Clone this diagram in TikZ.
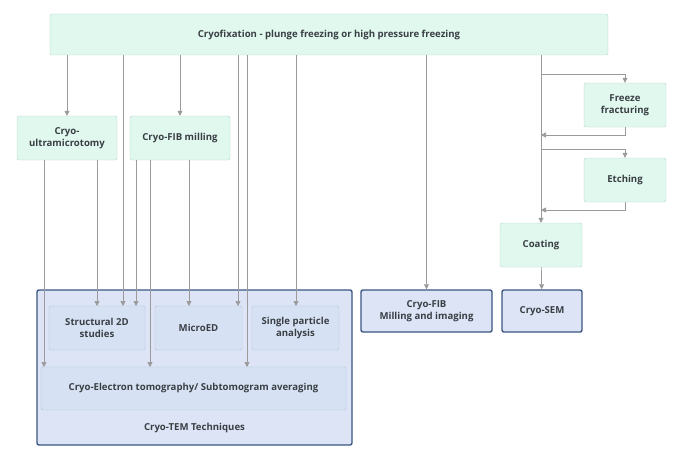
\documentclass[tikz,border=0pt]{standalone}
\usepackage{fontspec}
\setmainfont{Open Sans}
\usetikzlibrary{arrows.meta}
\definecolor{mint}{HTML}{E0F8EE}
\definecolor{mintb}{HTML}{B8D8C8}
\definecolor{bluef}{HTML}{DCE4F6}
\definecolor{blueb}{HTML}{3C5683}
\definecolor{innerf}{HTML}{D6E2F4}
\definecolor{innerb}{HTML}{B4C4DC}
\definecolor{ln}{HTML}{9A9A9A}
\definecolor{tx}{HTML}{3A3F44}
\tikzset{
 txt/.style={font=\bfseries\fontsize{9.6}{12}\selectfont, text=tx, align=center},
 mintbox/.style={draw=mintb, fill=mint, rounded corners=1.5pt, txt},
 bluebox/.style={draw=blueb, line width=1.4pt, fill=bluef, rounded corners=2pt, txt},
 innerbox/.style={draw=innerb, fill=innerf, rounded corners=1.5pt, txt},
 conn/.style={draw=ln, line width=0.7pt, -{Triangle[length=5pt,width=5pt]}},
}
\begin{document}
\begin{tikzpicture}[x=1pt,y=-1pt]
\useasboundingbox (0,0) rectangle (679,460);
\node[mintbox, minimum width=558, minimum height=41, inner sep=0] (top) at (329,34.5) {Cryofixation - plunge freezing or high pressure freezing};
\node[mintbox, minimum width=100, minimum height=44, inner sep=0] (um) at (67,138) {Cryo-\\ultramicrotomy};
\node[mintbox, minimum width=100, minimum height=44, inner sep=0] (fib) at (180,138) {Cryo-FIB milling};
\node[mintbox, minimum width=82, minimum height=44, inner sep=0] (ff) at (625,105) {Freeze\\fracturing};
\node[mintbox, minimum width=82, minimum height=44, inner sep=0] (et) at (625,180) {Etching};
\node[mintbox, minimum width=82, minimum height=44, inner sep=0] (co) at (541,245) {Coating};
\node[bluebox, minimum width=80, minimum height=42, inner sep=0] (sem) at (542,311) {Cryo-SEM};
\node[bluebox, minimum width=131, minimum height=42, inner sep=0] (fibi) at (426.5,311) {Cryo-FIB\\Milling and imaging};
\node[bluebox, minimum width=315, minimum height=155, inner sep=0] (tem) at (194.5,367.5) {};
\node[txt] (temlab) at (194.5,428) {Cryo-TEM Techniques};
\node[innerbox, minimum width=96, minimum height=44, inner sep=0] (s2d) at (97,328) {Structural 2D\\studies};
\node[innerbox, minimum width=87, minimum height=44, inner sep=0] (med) at (198.5,328) {MicroED};
\node[innerbox, minimum width=87, minimum height=44, inner sep=0] (spa) at (295.5,328) {Single particle\\analysis};
\node[innerbox, minimum width=305, minimum height=43, inner sep=0] (cet) at (193.5,388.5) {Cryo-Electron tomography/ Subtomogram averaging};
% from top
\draw[conn] (top.south -| um) -- (um.north);
\draw[conn] (top.south -| fib) -- (fib.north);
\draw[conn] (top.south -| 123,0) -- (123,306);
\draw[conn] (top.south -| 238,0) -- (238,306);
\draw[conn] (top.south -| 247,0) -- (247,367);
\draw[conn] (top.south -| 296,0) -- (296,306);
\draw[conn] (top.south -| fibi) -- (fibi.north);
\draw[conn] (top.south -| co) -- (co.north);
\draw[conn] (co) -- (sem);
% side loop
\draw[conn] (541,74) -| (ff.north);
\draw[conn] (ff.south) -- (625,135) -- (541,135);
\draw[conn] (541,149) -| (et.north);
\draw[conn] (et.south) -- (625,210) -- (541,210);
% from ultramicrotomy
\draw[conn] (um.south -| 44,0) -- (44,367);
\draw[conn] (um.south -| 97,0) -- (97,306);
% from FIB milling
\draw[conn] (fib.south -| 136,0) -- (136,306);
\draw[conn] (fib.south -| 150,0) -- (150,367);
\draw[conn] (fib.south -| 189,0) -- (189,306);
\end{tikzpicture}
\end{document}
